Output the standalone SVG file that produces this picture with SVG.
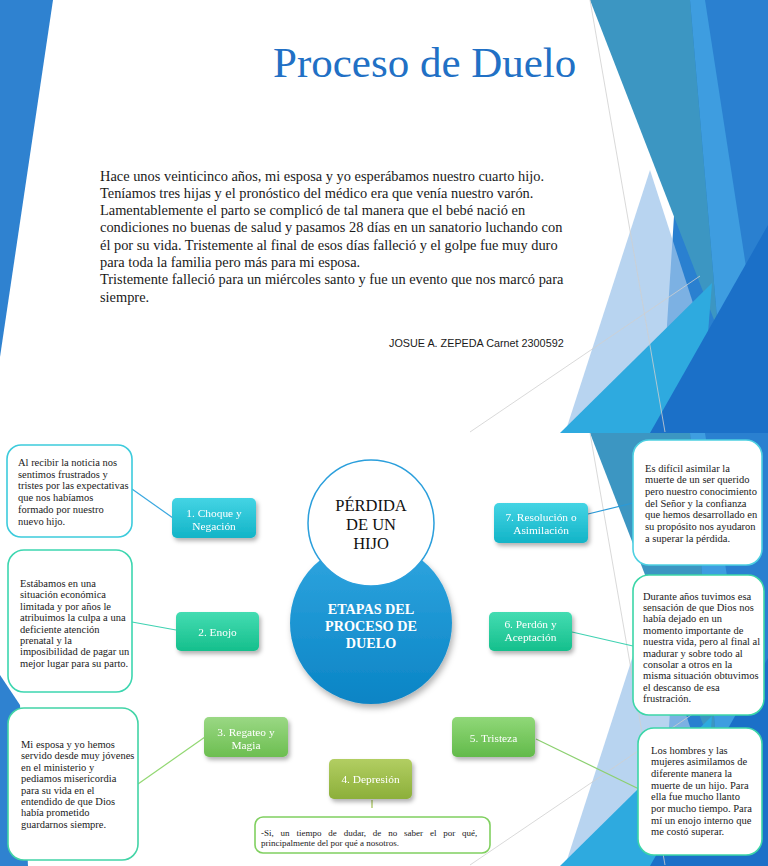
<svg xmlns="http://www.w3.org/2000/svg" xmlns:xlink="http://www.w3.org/1999/xlink" width="768" height="866" viewBox="0 0 768 866">
<style>
.para{font-family:"Liberation Serif","Times New Roman",serif;font-size:14.4px;fill:#1a1a1a}
.note{font-family:"Liberation Serif","Times New Roman",serif;font-size:10.5px;fill:#1a1a1a}
.lbl{font-family:"Liberation Serif","Times New Roman",serif;font-size:11.4px;fill:#ffffff;text-anchor:middle}
.tbox{fill:#ffffff;stroke-width:1.6}
.stage{filter:url(#sh)}
.conn{fill:none;stroke-width:1.2}
.thin{stroke:#cfcfcf;stroke-width:0.8;fill:none}
</style>
<defs>
<filter id="sh" x="-20%" y="-20%" width="150%" height="160%"><feDropShadow dx="2" dy="3" stdDeviation="2" flood-color="#000" flood-opacity="0.3"/></filter>
<filter id="sh2" x="-20%" y="-20%" width="150%" height="150%"><feDropShadow dx="2" dy="4" stdDeviation="3" flood-color="#000" flood-opacity="0.3"/></filter>
<linearGradient id="gCyan" x1="0" y1="0" x2="0" y2="1"><stop offset="0" stop-color="#44d4e4"/><stop offset="1" stop-color="#12b4c7"/></linearGradient>
<linearGradient id="gTeal" x1="0" y1="0" x2="0" y2="1"><stop offset="0" stop-color="#44dcb2"/><stop offset="1" stop-color="#15bf8c"/></linearGradient>
<linearGradient id="gLg" x1="0" y1="0" x2="0" y2="1"><stop offset="0" stop-color="#9ad884"/><stop offset="1" stop-color="#6cbe50"/></linearGradient>
<linearGradient id="gOl" x1="0" y1="0" x2="0" y2="1"><stop offset="0" stop-color="#b2ce62"/><stop offset="1" stop-color="#8caf3a"/></linearGradient>
<linearGradient id="gGr" x1="0" y1="0" x2="0" y2="1"><stop offset="0" stop-color="#90d878"/><stop offset="1" stop-color="#62ba4a"/></linearGradient>
<linearGradient id="gBlue" x1="0" y1="0" x2="0" y2="1"><stop offset="0" stop-color="#30a6e0"/><stop offset="1" stop-color="#0a84c5"/></linearGradient>
<g id="facet">
<polygon points="688,0 768,0 768,433 660,433" fill="#2a80d0"/>
<polygon points="690,0 705,0 748,280 718,330" fill="#3e9de0"/>
<polygon points="590,0 690,0 718,330" fill="#3c96c2"/>
<polygon points="650,170 565,433 735,433" fill="#9cc3ea" fill-opacity="0.72"/>
<polygon points="560,433 712,283 700,433" fill="#2eaadf"/>
<polygon points="650,433 768,225 768,433" fill="#1b70c8"/>
<line class="thin" x1="590" y1="0" x2="665" y2="432"/>
<line class="thin" x1="470" y1="432" x2="700" y2="276"/>
</g>
</defs>

<rect x="0" y="0" width="768" height="866" fill="#ffffff"/>

<g id="slide1">
<polygon points="0,0 53,0 0,357" fill="#2f82d0"/>
<use xlink:href="#facet"/>
<text x="273" y="77" font-family="Liberation Serif, Times New Roman, serif" font-size="43" fill="#2170c5">Proceso de Duelo</text>
<text class="para" x="100" y="180.5">Hace unos veinticinco años, mi esposa y yo esperábamos nuestro cuarto hijo.</text>
<text class="para" x="100" y="197.8">Teníamos tres hijas y el pronóstico del médico era que venía nuestro varón.</text>
<text class="para" x="100" y="215.1">Lamentablemente el parto se complicó de tal manera que el bebé nació en</text>
<text class="para" x="100" y="232.4">condiciones no buenas de salud y pasamos 28 días en un sanatorio luchando con</text>
<text class="para" x="100" y="249.7">él por su vida. Tristemente al final de esos días falleció y el golpe fue muy duro</text>
<text class="para" x="100" y="267">para toda la familia pero más para mi esposa.</text>
<text class="para" x="100" y="284.3">Tristemente falleció para un miércoles santo y fue un evento que nos marcó para</text>
<text class="para" x="100" y="301.6">siempre.</text>
<text x="389" y="347" font-family="Liberation Sans, Arial, sans-serif" font-size="10.8" fill="#1a1a1a">JOSUE A. ZEPEDA Carnet 2300592</text>
</g>

<g id="slide2">
<polygon points="0,675 20,705 28,866 0,866" fill="#2f82d0"/>
<use xlink:href="#facet" transform="translate(0,433)"/>
</g>

<g id="connectors">
<line class="conn" x1="132" y1="489" x2="173" y2="518" stroke="#3aa8e0"/>
<line class="conn" x1="132" y1="622" x2="176" y2="630" stroke="#40d2b2"/>
<line class="conn" x1="138" y1="784" x2="205" y2="737" stroke="#92d872"/>
<line class="conn" x1="372" y1="800" x2="372" y2="808" stroke="#a0c050"/>
<line class="conn" x1="536" y1="739" x2="639" y2="789" stroke="#8cd070"/>
<line class="conn" x1="572" y1="632" x2="633" y2="646" stroke="#40d2b2"/>
<line class="conn" x1="588" y1="514" x2="633" y2="503" stroke="#2a9ad8"/>
</g>

<g id="center-blue">
<circle cx="371" cy="623" r="81" fill="url(#gBlue)" filter="url(#sh2)"/>
<text x="371" y="614" font-family="Liberation Serif, Times New Roman, serif" font-size="14.2" font-weight="bold" fill="#ffffff" text-anchor="middle">ETAPAS DEL</text>
<text x="371" y="631" font-family="Liberation Serif, Times New Roman, serif" font-size="14.2" font-weight="bold" fill="#ffffff" text-anchor="middle">PROCESO DE</text>
<text x="371" y="648" font-family="Liberation Serif, Times New Roman, serif" font-size="14.2" font-weight="bold" fill="#ffffff" text-anchor="middle">DUELO</text>
</g>

<g id="center-white">
<circle cx="371" cy="523" r="63" fill="#ffffff" stroke="#2b9fdc" stroke-width="1.5"/>
<text x="371" y="511" font-family="Liberation Serif, Times New Roman, serif" font-size="16.5" fill="#111" text-anchor="middle">PÉRDIDA</text>
<text x="371" y="530" font-family="Liberation Serif, Times New Roman, serif" font-size="16.5" fill="#111" text-anchor="middle">DE UN</text>
<text x="371" y="549" font-family="Liberation Serif, Times New Roman, serif" font-size="16.5" fill="#111" text-anchor="middle">HIJO</text>
</g>

<g id="stage1" class="stage">
<rect x="172" y="498" width="84" height="40" rx="5" fill="url(#gCyan)"/>
<text class="lbl" x="214" y="517">1. Choque y</text>
<text class="lbl" x="214" y="529.5">Negación</text>
</g>
<g id="stage2" class="stage">
<rect x="176" y="612" width="83" height="39" rx="5" fill="url(#gTeal)"/>
<text class="lbl" x="217.5" y="636">2. Enojo</text>
</g>
<g id="stage3" class="stage">
<rect x="204" y="717" width="84" height="40" rx="5" fill="url(#gLg)"/>
<text class="lbl" x="246" y="736">3. Regateo y</text>
<text class="lbl" x="246" y="749">Magia</text>
</g>
<g id="stage4" class="stage">
<rect x="329" y="759" width="83" height="40" rx="5" fill="url(#gOl)"/>
<text class="lbl" x="370.5" y="783">4. Depresión</text>
</g>
<g id="stage5" class="stage">
<rect x="452" y="717" width="83" height="40" rx="5" fill="url(#gGr)"/>
<text class="lbl" x="493.5" y="742">5. Tristeza</text>
</g>
<g id="stage6" class="stage">
<rect x="489" y="612" width="83" height="39" rx="5" fill="url(#gTeal)"/>
<text class="lbl" x="530.5" y="628">6. Perdón y</text>
<text class="lbl" x="530.5" y="641">Aceptación</text>
</g>
<g id="stage7" class="stage">
<rect x="494" y="503" width="94" height="40" rx="5" fill="url(#gCyan)"/>
<text class="lbl" x="541" y="521">7. Resolución o</text>
<text class="lbl" x="541" y="534">Asimilación</text>
</g>

<g id="note1">
<rect class="tbox" x="7" y="445" width="125" height="92" rx="14" stroke="#3ccbdc"/>
<text class="note" x="18" y="466">Al recibir la noticia nos</text>
<text class="note" x="18" y="477.7">sentimos frustrados y</text>
<text class="note" x="18" y="489.4">tristes por las expectativas</text>
<text class="note" x="18" y="501.1">que nos habíamos</text>
<text class="note" x="18" y="512.8">formado por nuestro</text>
<text class="note" x="18" y="524.5">nuevo hijo.</text>
</g>
<g id="note2">
<rect class="tbox" x="8" y="550" width="124" height="142" rx="16" stroke="#3dd6b0"/>
<text class="note" x="20" y="587">Estábamos en una</text>
<text class="note" x="20" y="598.4">situación económica</text>
<text class="note" x="20" y="609.8">limitada y por años le</text>
<text class="note" x="20" y="621.2">atribuimos la culpa a una</text>
<text class="note" x="20" y="632.6">deficiente atención</text>
<text class="note" x="20" y="644">prenatal y la</text>
<text class="note" x="20" y="655.4">imposibilidad de pagar un</text>
<text class="note" x="20" y="666.8">mejor lugar para su parto.</text>
</g>
<g id="note3">
<rect class="tbox" x="8" y="708" width="130" height="152" rx="16" stroke="#42d4a6"/>
<text class="note" x="21" y="748">Mi esposa y yo hemos</text>
<text class="note" x="21" y="759.4">servido desde muy jóvenes</text>
<text class="note" x="21" y="770.8">en el ministerio y</text>
<text class="note" x="21" y="782.2">pediamos misericordia</text>
<text class="note" x="21" y="793.6">para su vida en el</text>
<text class="note" x="21" y="805">entendido de que Dios</text>
<text class="note" x="21" y="816.4">había prometido</text>
<text class="note" x="21" y="827.8">guardarnos siempre.</text>
</g>
<g id="note4">
<rect class="tbox" x="255" y="817" width="235" height="36" rx="8" stroke="#80d060"/>
<text x="261" y="836" font-family="Liberation Serif, Times New Roman, serif" font-size="9" fill="#1a1a1a" word-spacing="4.6">-Si, un tiempo de dudar, de no saber el por qué,</text>
<text x="261" y="846" font-family="Liberation Serif, Times New Roman, serif" font-size="9" fill="#1a1a1a">principalmente del por qué a nosotros.</text>
</g>
<g id="note5">
<rect class="tbox" x="638" y="728" width="124" height="127" rx="16" stroke="#3cd6a8"/>
<text class="note" x="651" y="753.5">Los hombres y las</text>
<text class="note" x="651" y="765.2">mujeres asimilamos de</text>
<text class="note" x="651" y="776.9">diferente manera la</text>
<text class="note" x="651" y="788.6">muerte de un hijo. Para</text>
<text class="note" x="651" y="800.3">ella fue mucho llanto</text>
<text class="note" x="651" y="812">por mucho tiempo. Para</text>
<text class="note" x="651" y="823.7">mí un enojo interno que</text>
<text class="note" x="651" y="835.4">me costó superar.</text>
</g>
<g id="note6">
<rect class="tbox" x="633" y="575" width="131" height="140" rx="16" stroke="#3cd6a8"/>
<text class="note" x="643" y="599.5">Durante años tuvimos esa</text>
<text class="note" x="643" y="610.9">sensación de que Dios nos</text>
<text class="note" x="643" y="622.3">había dejado en un</text>
<text class="note" x="643" y="633.7">momento importante de</text>
<text class="note" x="643" y="645.1">nuestra vida, pero al final al</text>
<text class="note" x="643" y="656.5">madurar y sobre todo al</text>
<text class="note" x="643" y="667.9">consolar a otros en la</text>
<text class="note" x="643" y="679.3">misma situación obtuvimos</text>
<text class="note" x="643" y="690.7">el descanso de esa</text>
<text class="note" x="643" y="702.1">frustración.</text>
</g>
<g id="note7">
<rect class="tbox" x="633" y="440" width="129" height="125" rx="16" stroke="#4dd0e1"/>
<text class="note" x="645" y="471.5">Es difícil asimilar la</text>
<text class="note" x="645" y="483.2">muerte de un ser querido</text>
<text class="note" x="645" y="494.9">pero nuestro conocimiento</text>
<text class="note" x="645" y="506.6">del Señor y la confianza</text>
<text class="note" x="645" y="518.3">que hemos desarrollado en</text>
<text class="note" x="645" y="530">su propósito nos ayudaron</text>
<text class="note" x="645" y="541.7">a superar la pérdida.</text>
</g>
</svg>
